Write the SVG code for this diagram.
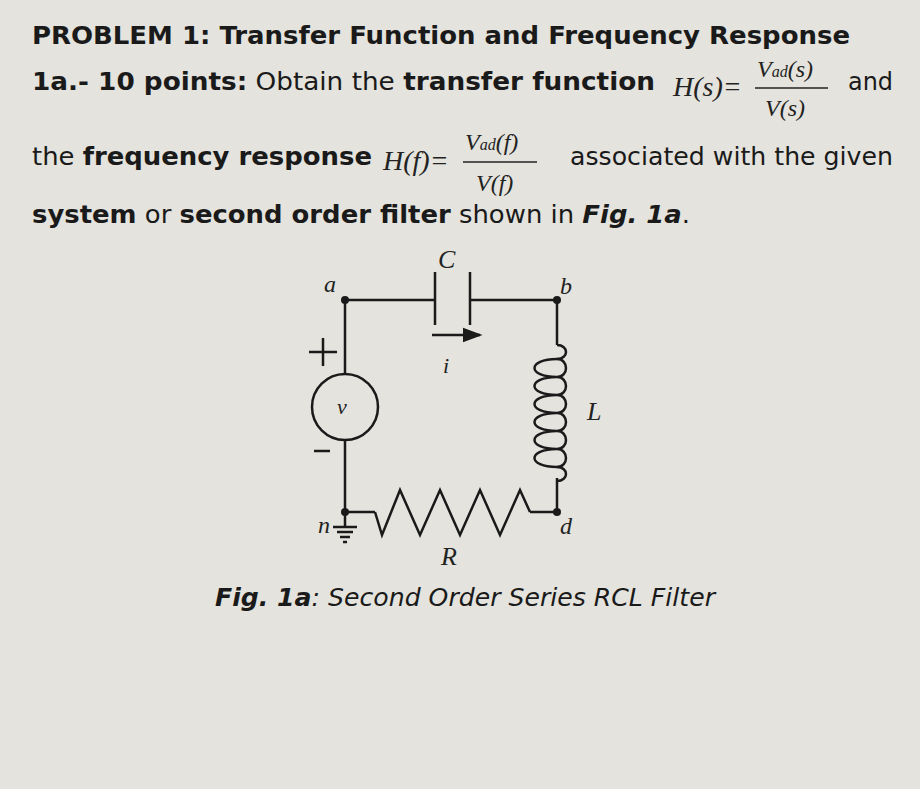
<svg xmlns="http://www.w3.org/2000/svg" width="920" height="789" viewBox="0 0 920 789">
<style>
.t{font-family:"DejaVu Sans",sans-serif;font-size:25px;fill:#1a1a1a}
.b{font-weight:bold}
.m{font-family:"Liberation Serif",serif;font-style:italic;fill:#222}
.w{stroke:#1a1a1a;stroke-width:2.5;fill:none}
</style>
<defs><marker id="ah" markerWidth="8" markerHeight="8" refX="7" refY="4" orient="auto"><path d="M0,1 L8,4 L0,7Z" fill="#1a1a1a"/></marker></defs>
<rect width="920" height="789" fill="#e4e3dd"/>
<g id="text">
<text x="32" y="44" class="t b" font-size="26" textLength="818" lengthAdjust="spacingAndGlyphs">PROBLEM 1: Transfer Function and Frequency Response</text>
<text x="32" y="90" class="t" textLength="623" lengthAdjust="spacingAndGlyphs"><tspan class="b">1a.- 10 points:</tspan> Obtain the <tspan class="b">transfer function</tspan></text>
<text x="673" y="96" class="m" font-size="28">H(s)=</text>
<text x="757" y="77" class="m" font-size="24">V<tspan font-size="16">ad</tspan>(s)</text>
<line x1="755" y1="88" x2="828" y2="88" stroke="#222" stroke-width="1.5"/>
<text x="765" y="116" class="m" font-size="24">V(s)</text>
<text x="848" y="90" class="t" textLength="45" lengthAdjust="spacingAndGlyphs">and</text>
<text x="32" y="165" class="t" textLength="340" lengthAdjust="spacingAndGlyphs">the <tspan class="b">frequency response</tspan></text>
<text x="383" y="170" class="m" font-size="28">H(f)=</text>
<text x="465" y="150" class="m" font-size="24">V<tspan font-size="16">ad</tspan>(f)</text>
<line x1="463" y1="162" x2="537" y2="162" stroke="#222" stroke-width="1.5"/>
<text x="476" y="191" class="m" font-size="24">V(f)</text>
<text x="570" y="165" class="t" textLength="323" lengthAdjust="spacingAndGlyphs">associated with the given</text>
<text x="32" y="223" class="t" textLength="658" lengthAdjust="spacingAndGlyphs"><tspan class="b">system</tspan> or <tspan class="b">second order filter</tspan> shown in <tspan class="b" font-style="italic">Fig. 1a</tspan>.</text>
<text x="215" y="606" class="t" font-size="23" font-style="italic" textLength="500" lengthAdjust="spacingAndGlyphs"><tspan class="b">Fig. 1a</tspan>: Second Order Series RCL Filter</text>
</g>
<g id="connectors">
<path class="w" d="M345,300 H435 M470,300 H557 V345 M345,300 V374 M345,440 V512 H375 M530,512 H557 V478 M345,512 V527"/>
<line x1="432" y1="335" x2="480" y2="335" class="w" stroke-width="2" marker-end="url(#ah)"/>
</g>
<g id="C"><path class="w" d="M435,272 V325 M470,272 V325"/><text x="438" y="268" class="m" font-size="26">C</text></g>
<g id="nodes">
<circle cx="345" cy="300" r="4" fill="#1a1a1a"/><circle cx="557" cy="300" r="4" fill="#1a1a1a"/>
<circle cx="345" cy="512" r="4" fill="#1a1a1a"/><circle cx="557" cy="512" r="4" fill="#1a1a1a"/>
<text x="324" y="292" class="m" font-size="24">a</text><text x="560" y="294" class="m" font-size="24">b</text>
<text x="318" y="533" class="m" font-size="24">n</text><text x="560" y="534" class="m" font-size="24">d</text>
<text x="443" y="373" class="m" font-size="22">i</text>
</g>
<g id="source"><circle cx="345" cy="407" r="33" class="w"/><text x="337" y="414" class="m" font-size="22">v</text>
<path class="w" d="M309,352 H337 M323,338 V366 M314,451 H330"/></g>
<g id="L"><path class="w" d="M557,345 c12,0 12,14 0,14 c-30,0 -30,18 0,18 c-30,0 -30,18 0,18 c-30,0 -30,18 0,18 c-30,0 -30,18 0,18 c-30,0 -30,18 0,18 c-30,0 -30,18 0,18 c12,0 12,14 0,14"/>
<path class="w" d="M557,359 c12,0 12,18 0,18 M557,377 c12,0 12,18 0,18 M557,395 c12,0 12,18 0,18 M557,413 c12,0 12,18 0,18 M557,431 c12,0 12,18 0,18 M557,449 c12,0 12,18 0,18"/>
<text x="587" y="420" class="m" font-size="26">L</text></g>
<g id="R"><path class="w" d="M375,512 L382,535 L400,490 L420,535 L440,490 L460,535 L480,490 L500,535 L520,490 L530,512"/>
<text x="441" y="565" class="m" font-size="26">R</text></g>
<g id="gnd"><path class="w" stroke-width="2" d="M333,527 H357 M337,532 H353 M340,537 H350 M343,542 H347"/></g>
</svg>
